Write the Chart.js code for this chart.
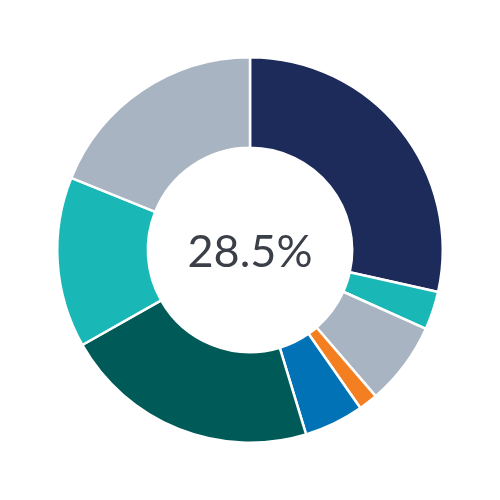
<!DOCTYPE html>
<html>
<head>
<script src="https://cdn.jsdelivr.net/npm/chart.js"></script>
<style>
  body { margin: 0; background: #fff; }
  #wrap { width: 500px; height: 500px; position: relative; }
  #label { position: absolute; left: 0; top: 0; width: 500px; height: 500px;
    display: flex; align-items: center; justify-content: center;
    font-family: Lato, sans-serif; font-size: 45px; color: #3a3f48; pointer-events: none; }
</style>
</head>
<body>
<div id="wrap">
  <canvas id="donut" width="500" height="500"></canvas>
  <div id="label">28.5%</div>
</div>
<script>
const labels = ['A', 'B', 'C', 'D', 'E', 'F', 'G', 'H'];
const values = [28.5, 3.2, 7.0, 1.6, 5.0, 21.5, 14.3, 18.9];
const colors = ['#1c2b5a', '#1ab7b7', '#a9b4c2', '#f47f20', '#0072b5', '#005a57', '#1ab7b7', '#a9b4c2'];

new Chart(document.getElementById('donut'), {
  type: 'doughnut',
  data: {
    labels: labels,
    datasets: [{
      data: values,
      backgroundColor: colors,
      borderColor: '#ffffff',
      borderWidth: 2.5
    }]
  },
  options: {
    animation: false,
    responsive: false,
    cutout: '53%',
    layout: { padding: 56 },
    plugins: {
      legend: { display: false },
      tooltip: { enabled: false }
    }
  }
});
</script>
</body>
</html>
